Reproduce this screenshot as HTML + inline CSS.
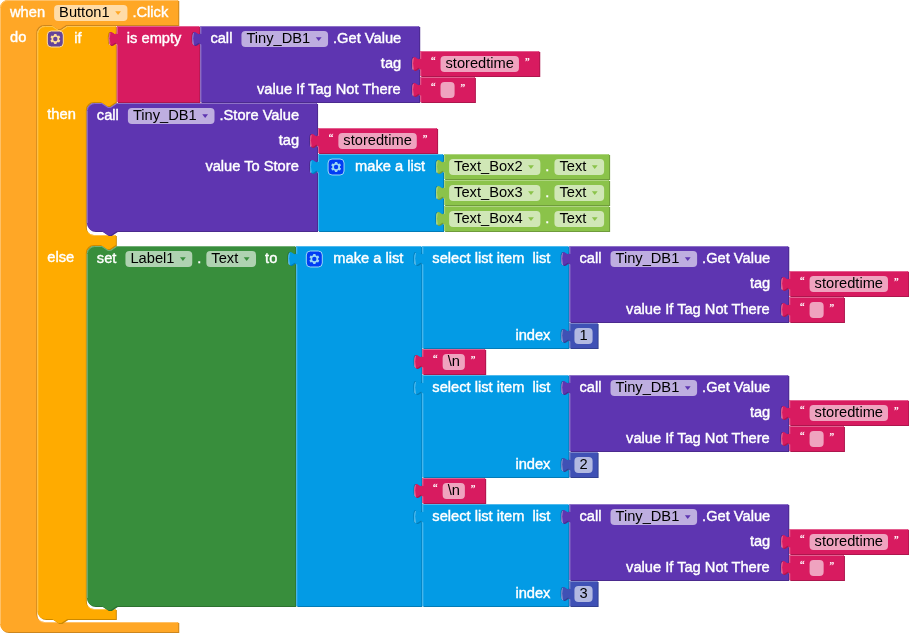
<!DOCTYPE html>
<html lang="en"><head><meta charset="utf-8"><title>Blocks</title>
<style>
html,body{margin:0;padding:0;background:#fff;overflow:hidden}
svg{display:block}
svg text{font-family:"Liberation Sans",Arial,sans-serif;font-size:14.6667px;white-space:pre}
svg text.w{fill:#fff;stroke:#fff;stroke-width:0.4px}
svg text.k{fill:#000}
svg text.q{font-family:"Liberation Serif","DejaVu Serif",serif;font-size:10.5px;font-weight:bold;font-style:italic}
</style></head><body>
<svg width="909" height="633" viewBox="0 0 909 633">
<g transform="translate(0,0)">
<path d="M 0,8 A 8,8 0 0,1 8,0 H 178.26 H 178.26 v 25 H 66.3 l -6,4 -3,0 -6,-4 h -7 a 8,8 0 0,0 -8,8 v 581 a 8,8 0 0,0 8,8 H 178.26 v 10 H 8 a 8,8 0 0,1 -8,-8 z" fill="#cc861e" transform="translate(1,1)"/>
<path d="M 0,8 A 8,8 0 0,1 8,0 H 178.26 H 178.26 v 25 H 66.3 l -6,4 -3,0 -6,-4 h -7 a 8,8 0 0,0 -8,8 v 581 a 8,8 0 0,0 8,8 H 178.26 v 10 H 8 a 8,8 0 0,1 -8,-8 z" fill="#FFA726"/>
<path d="M 0.5,7.5 A 7.5,7.5 0 0,1 8,0.5 H 177.76 M 38.64,619.66 a 8.5,8.5 0 0,0 5.66,2.84 H 177.76 M 0.5,624 V 8" fill="none" stroke="#ffc167" stroke-width="1"/>
<text x="10" y="17.1" class="w">when </text>
<rect x="54.11" y="5" width="73.32" height="16" rx="4" ry="4" fill="#fff" fill-opacity="0.6"/>
<text x="59.11" y="17.1" class="k">Button1</text>
<path d="M 115.17,11.3 h 5.8 l -2.9,3.6 z" fill="#FFA726"/>
<text x="132.43" y="17.1" class="w">.Click</text>
<text x="10" y="42.1" class="w">do</text>
</g>
<g transform="translate(37.3,26)">
<path d="M 0,8 A 8,8 0 0,1 8,0 H 15 l 6,4 3,0 6,-4 H 78.53 H 78.53 v 5 c 0,10 -8,-8 -8,7.5 s 8,-2.5 8,7.5 v 56 H 78.53 l -6,4 -3,0 -6,-4 h -7 a 8,8 0 0,0 -8,8 v 117 a 8,8 0 0,0 8,8 H 78.53 v 10 H 78.53 l -6,4 -3,0 -6,-4 h -7 a 8,8 0 0,0 -8,8 v 348 a 8,8 0 0,0 8,8 H 78.53 v 10 H 30 l -6,4 -3,0 -6,-4 H 8 a 8,8 0 0,1 -8,-8 z" fill="#cc8900" transform="translate(1,1)"/>
<path d="M 0,8 A 8,8 0 0,1 8,0 H 15 l 6,4 3,0 6,-4 H 78.53 H 78.53 v 5 c 0,10 -8,-8 -8,7.5 s 8,-2.5 8,7.5 v 56 H 78.53 l -6,4 -3,0 -6,-4 h -7 a 8,8 0 0,0 -8,8 v 117 a 8,8 0 0,0 8,8 H 78.53 v 10 H 78.53 l -6,4 -3,0 -6,-4 h -7 a 8,8 0 0,0 -8,8 v 348 a 8,8 0 0,0 8,8 H 78.53 v 10 H 30 l -6,4 -3,0 -6,-4 H 8 a 8,8 0 0,1 -8,-8 z" fill="#FFAB00"/>
<path d="M 0.5,7.5 A 7.5,7.5 0 0,1 8,0.5 H 15 l 6,4 3,0 6,-4 H 78.03 M 73.53,19.3 l 3.68,-2.1 M 50.87,206.66 a 8.5,8.5 0 0,0 5.66,2.84 H 78.03 M 50.87,580.66 a 8.5,8.5 0 0,0 5.66,2.84 H 78.03 M 0.5,585 V 8" fill="none" stroke="#ffc44d" stroke-width="1"/>
<g transform="translate(10,5)" opacity="0.6"><rect x="0" y="0" width="16" height="16" rx="4" ry="4" fill="#00f" stroke="#fff" stroke-width="1"/><path fill="#fff" d="m4.203,7.296 0,1.368 -0.92,0.677 -0.11,0.41 0.9,1.559 0.41,0.11 1.043,-0.457 1.187,0.683 0.127,1.134 0.3,0.3 1.8,0 0.3,-0.299 0.127,-1.138 1.185,-0.682 1.046,0.458 0.409,-0.11 0.9,-1.559 -0.11,-0.41 -0.92,-0.677 0,-1.366 0.92,-0.677 0.11,-0.41 -0.9,-1.559 -0.409,-0.109 -1.046,0.458 -1.185,-0.682 -0.127,-1.138 -0.3,-0.299 -1.8,0 -0.3,0.3 -0.126,1.135 -1.187,0.682 -1.043,-0.457 -0.41,0.11 -0.899,1.559 0.108,0.409z" /><circle r="2.2" cx="8" cy="8" fill="#00f"/></g>
<text x="37" y="17.1" class="w">if</text>
<text x="10" y="93.1" class="w">then</text>
<text x="10" y="236.1" class="w">else</text>
</g>
<g transform="translate(116.83,26)">
<path d="M 0,0 H 82.57 H 82.57 v 5 c 0,10 -8,-8 -8,7.5 s 8,-2.5 8,7.5 v 56 H 0 V 20 c 0,-10 -8,8 -8,-7.5 s 8,2.5 8,-7.5 z" fill="#ad164d" transform="translate(1,1)"/>
<path d="M 0,0 H 82.57 H 82.57 v 5 c 0,10 -8,-8 -8,7.5 s 8,-2.5 8,7.5 v 56 H 0 V 20 c 0,-10 -8,8 -8,-7.5 s 8,2.5 8,-7.5 z" fill="#D81B60"/>
<path d="M 0.5,0.5 H 82.07 M 77.57,19.3 l 3.68,-2.1 M 0.5,76 V 18.5 m -7.36,-0.5 q -1.52,-5.5 0,-11 m 7.36,1 V 0.5 H 1" fill="none" stroke="#e45f90" stroke-width="1"/>
<text x="10" y="17.1" class="w">is empty</text>
</g>
<g transform="translate(200.39,26)">
<path d="M 0,0 H 218.83 H 218.83 v 25 H 218.83 v 5 c 0,10 -8,-8 -8,7.5 s 8,-2.5 8,7.5 v 6 H 218.83 v 5 c 0,10 -8,-8 -8,7.5 s 8,-2.5 8,7.5 v 5 H 0 V 20 c 0,-10 -8,8 -8,-7.5 s 8,2.5 8,-7.5 z" fill="#4b2a8e" transform="translate(1,1)"/>
<path d="M 0,0 H 218.83 H 218.83 v 25 H 218.83 v 5 c 0,10 -8,-8 -8,7.5 s 8,-2.5 8,7.5 v 6 H 218.83 v 5 c 0,10 -8,-8 -8,7.5 s 8,-2.5 8,7.5 v 5 H 0 V 20 c 0,-10 -8,8 -8,-7.5 s 8,2.5 8,-7.5 z" fill="#5E35B1"/>
<path d="M 0.5,0.5 H 218.33 M 213.83,44.3 l 3.68,-2.1 M 213.83,70.3 l 3.68,-2.1 M 0.5,76 V 18.5 m -7.36,-0.5 q -1.52,-5.5 0,-11 m 7.36,1 V 0.5 H 1" fill="none" stroke="#8e72c8" stroke-width="1"/>
<text x="10" y="17.1" class="w">call </text>
<rect x="41.06" y="5" width="86.61" height="16" rx="4" ry="4" fill="#fff" fill-opacity="0.6"/>
<text x="46.06" y="17.1" class="k">Tiny_DB1</text>
<path d="M 115.41,11.3 h 5.8 l -2.9,3.6 z" fill="#5E35B1"/>
<text x="132.67" y="17.1" class="w">.Get Value</text>
<text x="180.46" y="42.1" class="w">tag</text>
<text x="56.64" y="68.1" class="w">value If Tag Not There</text>
</g>
<g transform="translate(420.23,51)">
<path d="M 0,0 H 119.02 H 119.02 v 25 H 0 V 20 c 0,-10 -8,8 -8,-7.5 s 8,2.5 8,-7.5 z" fill="#ad164d" transform="translate(1,1)"/>
<path d="M 0,0 H 119.02 H 119.02 v 25 H 0 V 20 c 0,-10 -8,8 -8,-7.5 s 8,2.5 8,-7.5 z" fill="#D81B60"/>
<path d="M 0.5,0.5 H 118.52 M 0.5,25 V 18.5 m -7.36,-0.5 q -1.52,-5.5 0,-11 m 7.36,1 V 0.5 H 1" fill="none" stroke="#e45f90" stroke-width="1"/>
<text class="q" x="10" y="12.7" fill="#fff">“</text>
<rect x="20.3" y="5" width="78.42" height="16" rx="4" ry="4" fill="#fff" fill-opacity="0.6"/>
<text x="25.3" y="17.1" class="k">storedtime</text>
<text class="q" x="103.92" y="13.5" fill="#fff">”</text>
</g>
<g transform="translate(420.23,77)">
<path d="M 0,0 H 54.67 H 54.67 v 25 H 0 V 20 c 0,-10 -8,8 -8,-7.5 s 8,2.5 8,-7.5 z" fill="#ad164d" transform="translate(1,1)"/>
<path d="M 0,0 H 54.67 H 54.67 v 25 H 0 V 20 c 0,-10 -8,8 -8,-7.5 s 8,2.5 8,-7.5 z" fill="#D81B60"/>
<path d="M 0.5,0.5 H 54.17 M 0.5,25 V 18.5 m -7.36,-0.5 q -1.52,-5.5 0,-11 m 7.36,1 V 0.5 H 1" fill="none" stroke="#e45f90" stroke-width="1"/>
<text class="q" x="10" y="12.7" fill="#fff">“</text>
<rect x="20.3" y="5" width="14.07" height="16" rx="4" ry="4" fill="#fff" fill-opacity="0.6"/>
<text class="q" x="39.57" y="13.5" fill="#fff">”</text>
</g>
<g transform="translate(86.83,103)">
<path d="M 0,8 A 8,8 0 0,1 8,0 H 15 l 6,4 3,0 6,-4 H 230.24 H 230.24 v 25 H 230.24 v 5 c 0,10 -8,-8 -8,7.5 s 8,-2.5 8,7.5 v 6 H 230.24 v 5 c 0,10 -8,-8 -8,7.5 s 8,-2.5 8,7.5 v 57 H 30 l -6,4 -3,0 -6,-4 H 8 a 8,8 0 0,1 -8,-8 z" fill="#4b2a8e" transform="translate(1,1)"/>
<path d="M 0,8 A 8,8 0 0,1 8,0 H 15 l 6,4 3,0 6,-4 H 230.24 H 230.24 v 25 H 230.24 v 5 c 0,10 -8,-8 -8,7.5 s 8,-2.5 8,7.5 v 6 H 230.24 v 5 c 0,10 -8,-8 -8,7.5 s 8,-2.5 8,7.5 v 57 H 30 l -6,4 -3,0 -6,-4 H 8 a 8,8 0 0,1 -8,-8 z" fill="#5E35B1"/>
<path d="M 0.5,7.5 A 7.5,7.5 0 0,1 8,0.5 H 15 l 6,4 3,0 6,-4 H 229.74 M 225.24,44.3 l 3.68,-2.1 M 225.24,70.3 l 3.68,-2.1 M 0.5,120 V 8" fill="none" stroke="#8e72c8" stroke-width="1"/>
<text x="10" y="17.1" class="w">call </text>
<rect x="41.06" y="5" width="86.61" height="16" rx="4" ry="4" fill="#fff" fill-opacity="0.6"/>
<text x="46.06" y="17.1" class="k">Tiny_DB1</text>
<path d="M 115.41,11.3 h 5.8 l -2.9,3.6 z" fill="#5E35B1"/>
<text x="132.67" y="17.1" class="w">.Store Value</text>
<text x="191.87" y="42.1" class="w">tag</text>
<text x="118.55" y="68.1" class="w">value To Store</text>
</g>
<g transform="translate(318.07,128)">
<path d="M 0,0 H 119.02 H 119.02 v 25 H 0 V 20 c 0,-10 -8,8 -8,-7.5 s 8,2.5 8,-7.5 z" fill="#ad164d" transform="translate(1,1)"/>
<path d="M 0,0 H 119.02 H 119.02 v 25 H 0 V 20 c 0,-10 -8,8 -8,-7.5 s 8,2.5 8,-7.5 z" fill="#D81B60"/>
<path d="M 0.5,0.5 H 118.52 M 0.5,25 V 18.5 m -7.36,-0.5 q -1.52,-5.5 0,-11 m 7.36,1 V 0.5 H 1" fill="none" stroke="#e45f90" stroke-width="1"/>
<text class="q" x="10" y="12.7" fill="#fff">“</text>
<rect x="20.3" y="5" width="78.42" height="16" rx="4" ry="4" fill="#fff" fill-opacity="0.6"/>
<text x="25.3" y="17.1" class="k">storedtime</text>
<text class="q" x="103.92" y="13.5" fill="#fff">”</text>
</g>
<g transform="translate(318.07,154)">
<path d="M 0,0 H 125.05 H 125.05 v 5 c 0,10 -8,-8 -8,7.5 s 8,-2.5 8,7.5 v 6 H 125.05 v 5 c 0,10 -8,-8 -8,7.5 s 8,-2.5 8,7.5 v 6 H 125.05 v 5 c 0,10 -8,-8 -8,7.5 s 8,-2.5 8,7.5 v 5 H 0 V 20 c 0,-10 -8,8 -8,-7.5 s 8,2.5 8,-7.5 z" fill="#027cb7" transform="translate(1,1)"/>
<path d="M 0,0 H 125.05 H 125.05 v 5 c 0,10 -8,-8 -8,7.5 s 8,-2.5 8,7.5 v 6 H 125.05 v 5 c 0,10 -8,-8 -8,7.5 s 8,-2.5 8,7.5 v 6 H 125.05 v 5 c 0,10 -8,-8 -8,7.5 s 8,-2.5 8,7.5 v 5 H 0 V 20 c 0,-10 -8,8 -8,-7.5 s 8,2.5 8,-7.5 z" fill="#039BE5"/>
<path d="M 0.5,0.5 H 124.55 M 120.05,19.3 l 3.68,-2.1 M 120.05,45.3 l 3.68,-2.1 M 120.05,71.3 l 3.68,-2.1 M 0.5,77 V 18.5 m -7.36,-0.5 q -1.52,-5.5 0,-11 m 7.36,1 V 0.5 H 1" fill="none" stroke="#4fb9ed" stroke-width="1"/>
<g transform="translate(10,5)" opacity="0.6"><rect x="0" y="0" width="16" height="16" rx="4" ry="4" fill="#00f" stroke="#fff" stroke-width="1"/><path fill="#fff" d="m4.203,7.296 0,1.368 -0.92,0.677 -0.11,0.41 0.9,1.559 0.41,0.11 1.043,-0.457 1.187,0.683 0.127,1.134 0.3,0.3 1.8,0 0.3,-0.299 0.127,-1.138 1.185,-0.682 1.046,0.458 0.409,-0.11 0.9,-1.559 -0.11,-0.41 -0.92,-0.677 0,-1.366 0.92,-0.677 0.11,-0.41 -0.9,-1.559 -0.409,-0.109 -1.046,0.458 -1.185,-0.682 -0.127,-1.138 -0.3,-0.299 -1.8,0 -0.3,0.3 -0.126,1.135 -1.187,0.682 -1.043,-0.457 -0.41,0.11 -0.899,1.559 0.108,0.409z" /><circle r="2.2" cx="8" cy="8" fill="#00f"/></g>
<text x="37" y="17.1" class="w">make a list</text>
</g>
<g transform="translate(444.12,154)">
<path d="M 0,0 H 164.99 H 164.99 v 25 H 0 V 20 c 0,-10 -8,8 -8,-7.5 s 8,2.5 8,-7.5 z" fill="#6f9c3b" transform="translate(1,1)"/>
<path d="M 0,0 H 164.99 H 164.99 v 25 H 0 V 20 c 0,-10 -8,8 -8,-7.5 s 8,2.5 8,-7.5 z" fill="#8BC34A"/>
<path d="M 0.5,0.5 H 164.49 M 0.5,25 V 18.5 m -7.36,-0.5 q -1.52,-5.5 0,-11 m 7.36,1 V 0.5 H 1" fill="none" stroke="#aed580" stroke-width="1"/>
<rect x="5" y="5" width="91.24" height="16" rx="4" ry="4" fill="#fff" fill-opacity="0.6"/>
<text x="10" y="17.1" class="k">Text_Box2</text>
<path d="M 83.98,11.3 h 5.8 l -2.9,3.6 z" fill="#8BC34A"/>
<text x="101.24" y="17.1" class="w">.</text>
<rect x="110.31" y="5" width="49.68" height="16" rx="4" ry="4" fill="#fff" fill-opacity="0.6"/>
<text x="115.31" y="17.1" class="k">Text</text>
<path d="M 147.73,11.3 h 5.8 l -2.9,3.6 z" fill="#8BC34A"/>
</g>
<g transform="translate(444.12,180)">
<path d="M 0,0 H 164.99 H 164.99 v 25 H 0 V 20 c 0,-10 -8,8 -8,-7.5 s 8,2.5 8,-7.5 z" fill="#6f9c3b" transform="translate(1,1)"/>
<path d="M 0,0 H 164.99 H 164.99 v 25 H 0 V 20 c 0,-10 -8,8 -8,-7.5 s 8,2.5 8,-7.5 z" fill="#8BC34A"/>
<path d="M 0.5,0.5 H 164.49 M 0.5,25 V 18.5 m -7.36,-0.5 q -1.52,-5.5 0,-11 m 7.36,1 V 0.5 H 1" fill="none" stroke="#aed580" stroke-width="1"/>
<rect x="5" y="5" width="91.24" height="16" rx="4" ry="4" fill="#fff" fill-opacity="0.6"/>
<text x="10" y="17.1" class="k">Text_Box3</text>
<path d="M 83.98,11.3 h 5.8 l -2.9,3.6 z" fill="#8BC34A"/>
<text x="101.24" y="17.1" class="w">.</text>
<rect x="110.31" y="5" width="49.68" height="16" rx="4" ry="4" fill="#fff" fill-opacity="0.6"/>
<text x="115.31" y="17.1" class="k">Text</text>
<path d="M 147.73,11.3 h 5.8 l -2.9,3.6 z" fill="#8BC34A"/>
</g>
<g transform="translate(444.12,206)">
<path d="M 0,0 H 164.99 H 164.99 v 25 H 0 V 20 c 0,-10 -8,8 -8,-7.5 s 8,2.5 8,-7.5 z" fill="#6f9c3b" transform="translate(1,1)"/>
<path d="M 0,0 H 164.99 H 164.99 v 25 H 0 V 20 c 0,-10 -8,8 -8,-7.5 s 8,2.5 8,-7.5 z" fill="#8BC34A"/>
<path d="M 0.5,0.5 H 164.49 M 0.5,25 V 18.5 m -7.36,-0.5 q -1.52,-5.5 0,-11 m 7.36,1 V 0.5 H 1" fill="none" stroke="#aed580" stroke-width="1"/>
<rect x="5" y="5" width="91.24" height="16" rx="4" ry="4" fill="#fff" fill-opacity="0.6"/>
<text x="10" y="17.1" class="k">Text_Box4</text>
<path d="M 83.98,11.3 h 5.8 l -2.9,3.6 z" fill="#8BC34A"/>
<text x="101.24" y="17.1" class="w">.</text>
<rect x="110.31" y="5" width="49.68" height="16" rx="4" ry="4" fill="#fff" fill-opacity="0.6"/>
<text x="115.31" y="17.1" class="k">Text</text>
<path d="M 147.73,11.3 h 5.8 l -2.9,3.6 z" fill="#8BC34A"/>
</g>
<g transform="translate(86.83,246)">
<path d="M 0,8 A 8,8 0 0,1 8,0 H 15 l 6,4 3,0 6,-4 H 208.48 H 208.48 v 5 c 0,10 -8,-8 -8,7.5 s 8,-2.5 8,7.5 v 340 H 30 l -6,4 -3,0 -6,-4 H 8 a 8,8 0 0,1 -8,-8 z" fill="#2d7230" transform="translate(1,1)"/>
<path d="M 0,8 A 8,8 0 0,1 8,0 H 15 l 6,4 3,0 6,-4 H 208.48 H 208.48 v 5 c 0,10 -8,-8 -8,7.5 s 8,-2.5 8,7.5 v 340 H 30 l -6,4 -3,0 -6,-4 H 8 a 8,8 0 0,1 -8,-8 z" fill="#388E3C"/>
<path d="M 0.5,7.5 A 7.5,7.5 0 0,1 8,0.5 H 15 l 6,4 3,0 6,-4 H 207.98 M 203.48,19.3 l 3.68,-2.1 M 0.5,352 V 8" fill="none" stroke="#74b077" stroke-width="1"/>
<text x="10" y="17.1" class="w">set </text>
<rect x="38.62" y="5" width="66.81" height="16" rx="4" ry="4" fill="#fff" fill-opacity="0.6"/>
<text x="43.62" y="17.1" class="k">Label1</text>
<path d="M 93.17,11.3 h 5.8 l -2.9,3.6 z" fill="#388E3C"/>
<text x="110.43" y="17.1" class="w">.</text>
<rect x="119.51" y="5" width="49.68" height="16" rx="4" ry="4" fill="#fff" fill-opacity="0.6"/>
<text x="124.51" y="17.1" class="k">Text</text>
<path d="M 156.93,11.3 h 5.8 l -2.9,3.6 z" fill="#388E3C"/>
<text x="174.19" y="17.1" class="w"> to</text>
</g>
<g transform="translate(296.31,246)">
<path d="M 0,0 H 125.05 H 125.05 v 5 c 0,10 -8,-8 -8,7.5 s 8,-2.5 8,7.5 v 83 H 125.05 v 5 c 0,10 -8,-8 -8,7.5 s 8,-2.5 8,7.5 v 6 H 125.05 v 5 c 0,10 -8,-8 -8,7.5 s 8,-2.5 8,7.5 v 83 H 125.05 v 5 c 0,10 -8,-8 -8,7.5 s 8,-2.5 8,7.5 v 6 H 125.05 v 5 c 0,10 -8,-8 -8,7.5 s 8,-2.5 8,7.5 v 82 H 0 V 20 c 0,-10 -8,8 -8,-7.5 s 8,2.5 8,-7.5 z" fill="#027cb7" transform="translate(1,1)"/>
<path d="M 0,0 H 125.05 H 125.05 v 5 c 0,10 -8,-8 -8,7.5 s 8,-2.5 8,7.5 v 83 H 125.05 v 5 c 0,10 -8,-8 -8,7.5 s 8,-2.5 8,7.5 v 6 H 125.05 v 5 c 0,10 -8,-8 -8,7.5 s 8,-2.5 8,7.5 v 83 H 125.05 v 5 c 0,10 -8,-8 -8,7.5 s 8,-2.5 8,7.5 v 6 H 125.05 v 5 c 0,10 -8,-8 -8,7.5 s 8,-2.5 8,7.5 v 82 H 0 V 20 c 0,-10 -8,8 -8,-7.5 s 8,2.5 8,-7.5 z" fill="#039BE5"/>
<path d="M 0.5,0.5 H 124.55 M 120.05,19.3 l 3.68,-2.1 M 120.05,122.3 l 3.68,-2.1 M 120.05,148.3 l 3.68,-2.1 M 120.05,251.3 l 3.68,-2.1 M 120.05,277.3 l 3.68,-2.1 M 0.5,360 V 18.5 m -7.36,-0.5 q -1.52,-5.5 0,-11 m 7.36,1 V 0.5 H 1" fill="none" stroke="#4fb9ed" stroke-width="1"/>
<g transform="translate(10,5)" opacity="0.6"><rect x="0" y="0" width="16" height="16" rx="4" ry="4" fill="#00f" stroke="#fff" stroke-width="1"/><path fill="#fff" d="m4.203,7.296 0,1.368 -0.92,0.677 -0.11,0.41 0.9,1.559 0.41,0.11 1.043,-0.457 1.187,0.683 0.127,1.134 0.3,0.3 1.8,0 0.3,-0.299 0.127,-1.138 1.185,-0.682 1.046,0.458 0.409,-0.11 0.9,-1.559 -0.11,-0.41 -0.92,-0.677 0,-1.366 0.92,-0.677 0.11,-0.41 -0.9,-1.559 -0.409,-0.109 -1.046,0.458 -1.185,-0.682 -0.127,-1.138 -0.3,-0.299 -1.8,0 -0.3,0.3 -0.126,1.135 -1.187,0.682 -1.043,-0.457 -0.41,0.11 -0.899,1.559 0.108,0.409z" /><circle r="2.2" cx="8" cy="8" fill="#00f"/></g>
<text x="37" y="17.1" class="w">make a list</text>
</g>
<g transform="translate(422.35,246)">
<path d="M 0,0 H 146.09 H 146.09 v 5 c 0,10 -8,-8 -8,7.5 s 8,-2.5 8,7.5 v 57 H 146.09 v 5 c 0,10 -8,-8 -8,7.5 s 8,-2.5 8,7.5 v 5 H 0 V 20 c 0,-10 -8,8 -8,-7.5 s 8,2.5 8,-7.5 z" fill="#027cb7" transform="translate(1,1)"/>
<path d="M 0,0 H 146.09 H 146.09 v 5 c 0,10 -8,-8 -8,7.5 s 8,-2.5 8,7.5 v 57 H 146.09 v 5 c 0,10 -8,-8 -8,7.5 s 8,-2.5 8,7.5 v 5 H 0 V 20 c 0,-10 -8,8 -8,-7.5 s 8,2.5 8,-7.5 z" fill="#039BE5"/>
<path d="M 0.5,0.5 H 145.59 M 141.09,19.3 l 3.68,-2.1 M 141.09,96.3 l 3.68,-2.1 M 0.5,102 V 18.5 m -7.36,-0.5 q -1.52,-5.5 0,-11 m 7.36,1 V 0.5 H 1" fill="none" stroke="#4fb9ed" stroke-width="1"/>
<text x="10" y="17.1" class="w">select list item  list</text>
<text x="93.05" y="94.1" class="w">index</text>
</g>
<g transform="translate(569.44,246)">
<path d="M 0,0 H 218.83 H 218.83 v 25 H 218.83 v 5 c 0,10 -8,-8 -8,7.5 s 8,-2.5 8,7.5 v 6 H 218.83 v 5 c 0,10 -8,-8 -8,7.5 s 8,-2.5 8,7.5 v 5 H 0 V 20 c 0,-10 -8,8 -8,-7.5 s 8,2.5 8,-7.5 z" fill="#4b2a8e" transform="translate(1,1)"/>
<path d="M 0,0 H 218.83 H 218.83 v 25 H 218.83 v 5 c 0,10 -8,-8 -8,7.5 s 8,-2.5 8,7.5 v 6 H 218.83 v 5 c 0,10 -8,-8 -8,7.5 s 8,-2.5 8,7.5 v 5 H 0 V 20 c 0,-10 -8,8 -8,-7.5 s 8,2.5 8,-7.5 z" fill="#5E35B1"/>
<path d="M 0.5,0.5 H 218.33 M 213.83,44.3 l 3.68,-2.1 M 213.83,70.3 l 3.68,-2.1 M 0.5,76 V 18.5 m -7.36,-0.5 q -1.52,-5.5 0,-11 m 7.36,1 V 0.5 H 1" fill="none" stroke="#8e72c8" stroke-width="1"/>
<text x="10" y="17.1" class="w">call </text>
<rect x="41.06" y="5" width="86.61" height="16" rx="4" ry="4" fill="#fff" fill-opacity="0.6"/>
<text x="46.06" y="17.1" class="k">Tiny_DB1</text>
<path d="M 115.41,11.3 h 5.8 l -2.9,3.6 z" fill="#5E35B1"/>
<text x="132.67" y="17.1" class="w">.Get Value</text>
<text x="180.46" y="42.1" class="w">tag</text>
<text x="56.64" y="68.1" class="w">value If Tag Not There</text>
</g>
<g transform="translate(789.28,271)">
<path d="M 0,0 H 119.02 H 119.02 v 25 H 0 V 20 c 0,-10 -8,8 -8,-7.5 s 8,2.5 8,-7.5 z" fill="#ad164d" transform="translate(1,1)"/>
<path d="M 0,0 H 119.02 H 119.02 v 25 H 0 V 20 c 0,-10 -8,8 -8,-7.5 s 8,2.5 8,-7.5 z" fill="#D81B60"/>
<path d="M 0.5,0.5 H 118.52 M 0.5,25 V 18.5 m -7.36,-0.5 q -1.52,-5.5 0,-11 m 7.36,1 V 0.5 H 1" fill="none" stroke="#e45f90" stroke-width="1"/>
<text class="q" x="10" y="12.7" fill="#fff">“</text>
<rect x="20.3" y="5" width="78.42" height="16" rx="4" ry="4" fill="#fff" fill-opacity="0.6"/>
<text x="25.3" y="17.1" class="k">storedtime</text>
<text class="q" x="103.92" y="13.5" fill="#fff">”</text>
</g>
<g transform="translate(789.28,297)">
<path d="M 0,0 H 54.67 H 54.67 v 25 H 0 V 20 c 0,-10 -8,8 -8,-7.5 s 8,2.5 8,-7.5 z" fill="#ad164d" transform="translate(1,1)"/>
<path d="M 0,0 H 54.67 H 54.67 v 25 H 0 V 20 c 0,-10 -8,8 -8,-7.5 s 8,2.5 8,-7.5 z" fill="#D81B60"/>
<path d="M 0.5,0.5 H 54.17 M 0.5,25 V 18.5 m -7.36,-0.5 q -1.52,-5.5 0,-11 m 7.36,1 V 0.5 H 1" fill="none" stroke="#e45f90" stroke-width="1"/>
<text class="q" x="10" y="12.7" fill="#fff">“</text>
<rect x="20.3" y="5" width="14.07" height="16" rx="4" ry="4" fill="#fff" fill-opacity="0.6"/>
<text class="q" x="39.57" y="13.5" fill="#fff">”</text>
</g>
<g transform="translate(569.44,323)">
<path d="M 0,0 H 28.15 H 28.15 v 25 H 0 V 20 c 0,-10 -8,8 -8,-7.5 s 8,2.5 8,-7.5 z" fill="#324191" transform="translate(1,1)"/>
<path d="M 0,0 H 28.15 H 28.15 v 25 H 0 V 20 c 0,-10 -8,8 -8,-7.5 s 8,2.5 8,-7.5 z" fill="#3F51B5"/>
<path d="M 0.5,0.5 H 27.65 M 0.5,25 V 18.5 m -7.36,-0.5 q -1.52,-5.5 0,-11 m 7.36,1 V 0.5 H 1" fill="none" stroke="#7985cb" stroke-width="1"/>
<rect x="5" y="5" width="18.15" height="16" rx="4" ry="4" fill="#fff" fill-opacity="0.6"/>
<text x="10" y="17.1" class="k">1</text>
</g>
<g transform="translate(422.35,349)">
<path d="M 0,0 H 62.82 H 62.82 v 25 H 0 V 20 c 0,-10 -8,8 -8,-7.5 s 8,2.5 8,-7.5 z" fill="#ad164d" transform="translate(1,1)"/>
<path d="M 0,0 H 62.82 H 62.82 v 25 H 0 V 20 c 0,-10 -8,8 -8,-7.5 s 8,2.5 8,-7.5 z" fill="#D81B60"/>
<path d="M 0.5,0.5 H 62.32 M 0.5,25 V 18.5 m -7.36,-0.5 q -1.52,-5.5 0,-11 m 7.36,1 V 0.5 H 1" fill="none" stroke="#e45f90" stroke-width="1"/>
<text class="q" x="10" y="12.7" fill="#fff">“</text>
<rect x="20.3" y="5" width="22.22" height="16" rx="4" ry="4" fill="#fff" fill-opacity="0.6"/>
<text x="25.3" y="17.1" class="k">\n</text>
<text class="q" x="47.72" y="13.5" fill="#fff">”</text>
</g>
<g transform="translate(422.35,375)">
<path d="M 0,0 H 146.09 H 146.09 v 5 c 0,10 -8,-8 -8,7.5 s 8,-2.5 8,7.5 v 57 H 146.09 v 5 c 0,10 -8,-8 -8,7.5 s 8,-2.5 8,7.5 v 5 H 0 V 20 c 0,-10 -8,8 -8,-7.5 s 8,2.5 8,-7.5 z" fill="#027cb7" transform="translate(1,1)"/>
<path d="M 0,0 H 146.09 H 146.09 v 5 c 0,10 -8,-8 -8,7.5 s 8,-2.5 8,7.5 v 57 H 146.09 v 5 c 0,10 -8,-8 -8,7.5 s 8,-2.5 8,7.5 v 5 H 0 V 20 c 0,-10 -8,8 -8,-7.5 s 8,2.5 8,-7.5 z" fill="#039BE5"/>
<path d="M 0.5,0.5 H 145.59 M 141.09,19.3 l 3.68,-2.1 M 141.09,96.3 l 3.68,-2.1 M 0.5,102 V 18.5 m -7.36,-0.5 q -1.52,-5.5 0,-11 m 7.36,1 V 0.5 H 1" fill="none" stroke="#4fb9ed" stroke-width="1"/>
<text x="10" y="17.1" class="w">select list item  list</text>
<text x="93.05" y="94.1" class="w">index</text>
</g>
<g transform="translate(569.44,375)">
<path d="M 0,0 H 218.83 H 218.83 v 25 H 218.83 v 5 c 0,10 -8,-8 -8,7.5 s 8,-2.5 8,7.5 v 6 H 218.83 v 5 c 0,10 -8,-8 -8,7.5 s 8,-2.5 8,7.5 v 5 H 0 V 20 c 0,-10 -8,8 -8,-7.5 s 8,2.5 8,-7.5 z" fill="#4b2a8e" transform="translate(1,1)"/>
<path d="M 0,0 H 218.83 H 218.83 v 25 H 218.83 v 5 c 0,10 -8,-8 -8,7.5 s 8,-2.5 8,7.5 v 6 H 218.83 v 5 c 0,10 -8,-8 -8,7.5 s 8,-2.5 8,7.5 v 5 H 0 V 20 c 0,-10 -8,8 -8,-7.5 s 8,2.5 8,-7.5 z" fill="#5E35B1"/>
<path d="M 0.5,0.5 H 218.33 M 213.83,44.3 l 3.68,-2.1 M 213.83,70.3 l 3.68,-2.1 M 0.5,76 V 18.5 m -7.36,-0.5 q -1.52,-5.5 0,-11 m 7.36,1 V 0.5 H 1" fill="none" stroke="#8e72c8" stroke-width="1"/>
<text x="10" y="17.1" class="w">call </text>
<rect x="41.06" y="5" width="86.61" height="16" rx="4" ry="4" fill="#fff" fill-opacity="0.6"/>
<text x="46.06" y="17.1" class="k">Tiny_DB1</text>
<path d="M 115.41,11.3 h 5.8 l -2.9,3.6 z" fill="#5E35B1"/>
<text x="132.67" y="17.1" class="w">.Get Value</text>
<text x="180.46" y="42.1" class="w">tag</text>
<text x="56.64" y="68.1" class="w">value If Tag Not There</text>
</g>
<g transform="translate(789.28,400)">
<path d="M 0,0 H 119.02 H 119.02 v 25 H 0 V 20 c 0,-10 -8,8 -8,-7.5 s 8,2.5 8,-7.5 z" fill="#ad164d" transform="translate(1,1)"/>
<path d="M 0,0 H 119.02 H 119.02 v 25 H 0 V 20 c 0,-10 -8,8 -8,-7.5 s 8,2.5 8,-7.5 z" fill="#D81B60"/>
<path d="M 0.5,0.5 H 118.52 M 0.5,25 V 18.5 m -7.36,-0.5 q -1.52,-5.5 0,-11 m 7.36,1 V 0.5 H 1" fill="none" stroke="#e45f90" stroke-width="1"/>
<text class="q" x="10" y="12.7" fill="#fff">“</text>
<rect x="20.3" y="5" width="78.42" height="16" rx="4" ry="4" fill="#fff" fill-opacity="0.6"/>
<text x="25.3" y="17.1" class="k">storedtime</text>
<text class="q" x="103.92" y="13.5" fill="#fff">”</text>
</g>
<g transform="translate(789.28,426)">
<path d="M 0,0 H 54.67 H 54.67 v 25 H 0 V 20 c 0,-10 -8,8 -8,-7.5 s 8,2.5 8,-7.5 z" fill="#ad164d" transform="translate(1,1)"/>
<path d="M 0,0 H 54.67 H 54.67 v 25 H 0 V 20 c 0,-10 -8,8 -8,-7.5 s 8,2.5 8,-7.5 z" fill="#D81B60"/>
<path d="M 0.5,0.5 H 54.17 M 0.5,25 V 18.5 m -7.36,-0.5 q -1.52,-5.5 0,-11 m 7.36,1 V 0.5 H 1" fill="none" stroke="#e45f90" stroke-width="1"/>
<text class="q" x="10" y="12.7" fill="#fff">“</text>
<rect x="20.3" y="5" width="14.07" height="16" rx="4" ry="4" fill="#fff" fill-opacity="0.6"/>
<text class="q" x="39.57" y="13.5" fill="#fff">”</text>
</g>
<g transform="translate(569.44,452)">
<path d="M 0,0 H 28.15 H 28.15 v 25 H 0 V 20 c 0,-10 -8,8 -8,-7.5 s 8,2.5 8,-7.5 z" fill="#324191" transform="translate(1,1)"/>
<path d="M 0,0 H 28.15 H 28.15 v 25 H 0 V 20 c 0,-10 -8,8 -8,-7.5 s 8,2.5 8,-7.5 z" fill="#3F51B5"/>
<path d="M 0.5,0.5 H 27.65 M 0.5,25 V 18.5 m -7.36,-0.5 q -1.52,-5.5 0,-11 m 7.36,1 V 0.5 H 1" fill="none" stroke="#7985cb" stroke-width="1"/>
<rect x="5" y="5" width="18.15" height="16" rx="4" ry="4" fill="#fff" fill-opacity="0.6"/>
<text x="10" y="17.1" class="k">2</text>
</g>
<g transform="translate(422.35,478)">
<path d="M 0,0 H 62.82 H 62.82 v 25 H 0 V 20 c 0,-10 -8,8 -8,-7.5 s 8,2.5 8,-7.5 z" fill="#ad164d" transform="translate(1,1)"/>
<path d="M 0,0 H 62.82 H 62.82 v 25 H 0 V 20 c 0,-10 -8,8 -8,-7.5 s 8,2.5 8,-7.5 z" fill="#D81B60"/>
<path d="M 0.5,0.5 H 62.32 M 0.5,25 V 18.5 m -7.36,-0.5 q -1.52,-5.5 0,-11 m 7.36,1 V 0.5 H 1" fill="none" stroke="#e45f90" stroke-width="1"/>
<text class="q" x="10" y="12.7" fill="#fff">“</text>
<rect x="20.3" y="5" width="22.22" height="16" rx="4" ry="4" fill="#fff" fill-opacity="0.6"/>
<text x="25.3" y="17.1" class="k">\n</text>
<text class="q" x="47.72" y="13.5" fill="#fff">”</text>
</g>
<g transform="translate(422.35,504)">
<path d="M 0,0 H 146.09 H 146.09 v 5 c 0,10 -8,-8 -8,7.5 s 8,-2.5 8,7.5 v 57 H 146.09 v 5 c 0,10 -8,-8 -8,7.5 s 8,-2.5 8,7.5 v 5 H 0 V 20 c 0,-10 -8,8 -8,-7.5 s 8,2.5 8,-7.5 z" fill="#027cb7" transform="translate(1,1)"/>
<path d="M 0,0 H 146.09 H 146.09 v 5 c 0,10 -8,-8 -8,7.5 s 8,-2.5 8,7.5 v 57 H 146.09 v 5 c 0,10 -8,-8 -8,7.5 s 8,-2.5 8,7.5 v 5 H 0 V 20 c 0,-10 -8,8 -8,-7.5 s 8,2.5 8,-7.5 z" fill="#039BE5"/>
<path d="M 0.5,0.5 H 145.59 M 141.09,19.3 l 3.68,-2.1 M 141.09,96.3 l 3.68,-2.1 M 0.5,102 V 18.5 m -7.36,-0.5 q -1.52,-5.5 0,-11 m 7.36,1 V 0.5 H 1" fill="none" stroke="#4fb9ed" stroke-width="1"/>
<text x="10" y="17.1" class="w">select list item  list</text>
<text x="93.05" y="94.1" class="w">index</text>
</g>
<g transform="translate(569.44,504)">
<path d="M 0,0 H 218.83 H 218.83 v 25 H 218.83 v 5 c 0,10 -8,-8 -8,7.5 s 8,-2.5 8,7.5 v 6 H 218.83 v 5 c 0,10 -8,-8 -8,7.5 s 8,-2.5 8,7.5 v 5 H 0 V 20 c 0,-10 -8,8 -8,-7.5 s 8,2.5 8,-7.5 z" fill="#4b2a8e" transform="translate(1,1)"/>
<path d="M 0,0 H 218.83 H 218.83 v 25 H 218.83 v 5 c 0,10 -8,-8 -8,7.5 s 8,-2.5 8,7.5 v 6 H 218.83 v 5 c 0,10 -8,-8 -8,7.5 s 8,-2.5 8,7.5 v 5 H 0 V 20 c 0,-10 -8,8 -8,-7.5 s 8,2.5 8,-7.5 z" fill="#5E35B1"/>
<path d="M 0.5,0.5 H 218.33 M 213.83,44.3 l 3.68,-2.1 M 213.83,70.3 l 3.68,-2.1 M 0.5,76 V 18.5 m -7.36,-0.5 q -1.52,-5.5 0,-11 m 7.36,1 V 0.5 H 1" fill="none" stroke="#8e72c8" stroke-width="1"/>
<text x="10" y="17.1" class="w">call </text>
<rect x="41.06" y="5" width="86.61" height="16" rx="4" ry="4" fill="#fff" fill-opacity="0.6"/>
<text x="46.06" y="17.1" class="k">Tiny_DB1</text>
<path d="M 115.41,11.3 h 5.8 l -2.9,3.6 z" fill="#5E35B1"/>
<text x="132.67" y="17.1" class="w">.Get Value</text>
<text x="180.46" y="42.1" class="w">tag</text>
<text x="56.64" y="68.1" class="w">value If Tag Not There</text>
</g>
<g transform="translate(789.28,529)">
<path d="M 0,0 H 119.02 H 119.02 v 25 H 0 V 20 c 0,-10 -8,8 -8,-7.5 s 8,2.5 8,-7.5 z" fill="#ad164d" transform="translate(1,1)"/>
<path d="M 0,0 H 119.02 H 119.02 v 25 H 0 V 20 c 0,-10 -8,8 -8,-7.5 s 8,2.5 8,-7.5 z" fill="#D81B60"/>
<path d="M 0.5,0.5 H 118.52 M 0.5,25 V 18.5 m -7.36,-0.5 q -1.52,-5.5 0,-11 m 7.36,1 V 0.5 H 1" fill="none" stroke="#e45f90" stroke-width="1"/>
<text class="q" x="10" y="12.7" fill="#fff">“</text>
<rect x="20.3" y="5" width="78.42" height="16" rx="4" ry="4" fill="#fff" fill-opacity="0.6"/>
<text x="25.3" y="17.1" class="k">storedtime</text>
<text class="q" x="103.92" y="13.5" fill="#fff">”</text>
</g>
<g transform="translate(789.28,555)">
<path d="M 0,0 H 54.67 H 54.67 v 25 H 0 V 20 c 0,-10 -8,8 -8,-7.5 s 8,2.5 8,-7.5 z" fill="#ad164d" transform="translate(1,1)"/>
<path d="M 0,0 H 54.67 H 54.67 v 25 H 0 V 20 c 0,-10 -8,8 -8,-7.5 s 8,2.5 8,-7.5 z" fill="#D81B60"/>
<path d="M 0.5,0.5 H 54.17 M 0.5,25 V 18.5 m -7.36,-0.5 q -1.52,-5.5 0,-11 m 7.36,1 V 0.5 H 1" fill="none" stroke="#e45f90" stroke-width="1"/>
<text class="q" x="10" y="12.7" fill="#fff">“</text>
<rect x="20.3" y="5" width="14.07" height="16" rx="4" ry="4" fill="#fff" fill-opacity="0.6"/>
<text class="q" x="39.57" y="13.5" fill="#fff">”</text>
</g>
<g transform="translate(569.44,581)">
<path d="M 0,0 H 28.15 H 28.15 v 25 H 0 V 20 c 0,-10 -8,8 -8,-7.5 s 8,2.5 8,-7.5 z" fill="#324191" transform="translate(1,1)"/>
<path d="M 0,0 H 28.15 H 28.15 v 25 H 0 V 20 c 0,-10 -8,8 -8,-7.5 s 8,2.5 8,-7.5 z" fill="#3F51B5"/>
<path d="M 0.5,0.5 H 27.65 M 0.5,25 V 18.5 m -7.36,-0.5 q -1.52,-5.5 0,-11 m 7.36,1 V 0.5 H 1" fill="none" stroke="#7985cb" stroke-width="1"/>
<rect x="5" y="5" width="18.15" height="16" rx="4" ry="4" fill="#fff" fill-opacity="0.6"/>
<text x="10" y="17.1" class="k">3</text>
</g>
</svg>
</body></html>
